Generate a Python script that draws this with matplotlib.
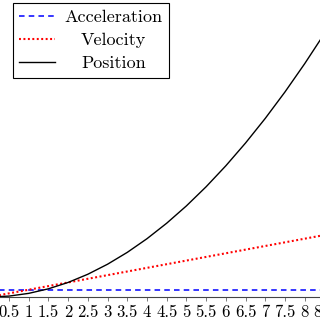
import matplotlib
matplotlib.use('Agg')  # Headless mode
import matplotlib.pyplot as plt
from matplotlib.ticker import MultipleLocator, FuncFormatter

# values (time in s)
time = [0, 0.5, 1, 1.5, 2, 2.5, 3, 3.5, 4, 4.5, 5, 5.5, 6, 6.5, 7, 7.5, 8, 8.5]
acceleration = [2, 2, 2, 2, 2, 2, 2, 2, 2, 2, 2, 2, 2, 2, 2, 2, 2, 2]
velocity = [0, 1, 2, 3, 4, 5, 6, 7, 8, 9, 10, 11, 12, 13, 14, 15, 16, 17]
position = [0, 0.25, 1, 2.25, 4, 6.25, 9, 12.25, 16, 20.25, 25, 30.25,
            36, 42.25, 49, 56.25, 64, 72.25]

plt.rcParams['font.family'] = 'cmr10'
plt.rcParams['axes.formatter.use_mathtext'] = True
plt.rcParams['lines.scale_dashes'] = False

# the visible window shows x from 0.27 to 8.39; the axes run a little wider
px_per_unit = 320 / (8.39 - 0.27)
x_lo, x_hi = -0.5, 9.0
left_px = (x_lo - 0.27) * px_per_unit
width_px = (x_hi - x_lo) * px_per_unit

fig = plt.figure(figsize=(3.2, 3.2), dpi=100)
ax = fig.add_axes([left_px / 320, 23 / 320, width_px / 320, 297 / 320])

ax.plot(time, acceleration, color='blue', linewidth=1.1, dashes=(4.0, 3.0), label='Acceleration')
ax.plot(time, velocity, color='red', linewidth=1.5, dashes=(1.4, 1.8), label='Velocity')
ax.plot(time, position, color='black', linewidth=1.0, label='Position')

ax.set_xlim(x_lo, x_hi)
ax.set_ylim(0, 81.5)

ax.xaxis.set_major_locator(MultipleLocator(0.5))
ax.xaxis.set_major_formatter(FuncFormatter(lambda v, p: f"{v:g}"))
ax.set_yticks([])
for side in ['top', 'left', 'right']:
    ax.spines[side].set_visible(False)
ax.spines['bottom'].set_color('#444444')
ax.spines['bottom'].set_linewidth(0.8)
ax.tick_params(axis='x', direction='out', length=3, width=0.6, color='#666666',
               labelsize=12, pad=2.5, labelcolor='black')

leg = ax.legend(loc='upper left', bbox_to_anchor=(13 / 320, 317 / 320),
                bbox_transform=fig.transFigure, borderaxespad=0,
                fontsize=13, fancybox=False, edgecolor='black', framealpha=1,
                handlelength=1.95, handletextpad=0.55, borderpad=0.35, labelspacing=0.42)
leg.get_frame().set_linewidth(0.8)

# centre the legend labels like the original
fig.canvas.draw()
texts = leg.get_texts()
widths = [t.get_window_extent().width for t in texts]
for t, w in zip(texts, widths):
    t.set_position(((max(widths) - w) / 2, 0))

fig.savefig('out.png', dpi=100)
